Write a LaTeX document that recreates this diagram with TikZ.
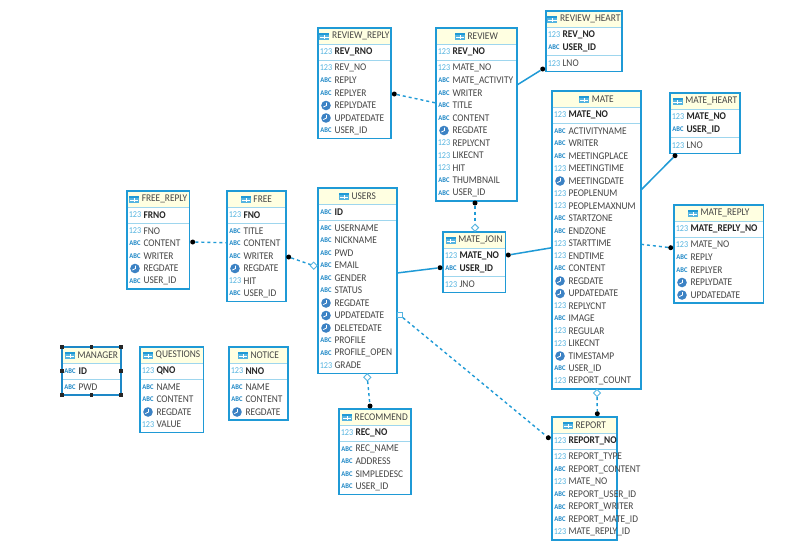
\documentclass[tikz,border=0pt]{standalone}
\usepackage{fontspec}
\setmainfont{Carlito}[FakeStretch=0.91]
\usetikzlibrary{shapes.geometric}
\definecolor{erdblue}{HTML}{1F9AD6}
\definecolor{erdsep}{HTML}{9ED6EE}
\definecolor{erdhead}{HTML}{FFFFE1}
\definecolor{erdnum}{HTML}{55B4E0}
\definecolor{erdabc}{HTML}{1E88C7}
\definecolor{erdclock}{HTML}{3C82C4}
\definecolor{erdtext}{HTML}{454545}
\newcommand{\lblfont}{\fontsize{10.3pt}{12pt}\selectfont}
\tikzset{
  tablebox/.style={draw=erdblue,line width=1.6pt,fill=white,inner sep=0pt,outer sep=0pt},
  headfill/.style={fill=erdhead,draw=none},
  rowsep/.style={draw=erdsep,line width=1pt},
  headsep/.style={draw=erdsep,line width=1pt},
  coltext/.style={anchor=west,inner sep=0pt,text=erdtext,font=\lblfont},
  pktext/.style={anchor=west,inner sep=0pt,text=black!85,font=\lblfont\bfseries},
  titletext/.style={inner sep=0pt,text=erdtext,font=\lblfont},
  numicon/.style={inner sep=0pt,text=erdnum,font=\fontsize{9pt}{10pt}\selectfont},
  abcicon/.style={inner sep=0pt,text=erdabc,font=\fontsize{7.2pt}{8pt}\selectfont\bfseries},
  conn/.style={draw=erdblue,line width=1.5pt},
  dashconn/.style={draw=erdblue,line width=1.4pt,dash pattern=on 3pt off 3pt},
  dotmark/.style={circle,fill=black,draw=none,minimum size=5pt,inner sep=0pt},
  diamark/.style={diamond,draw=erdnum,fill=white,line width=0.9pt,minimum size=7.5pt,inner sep=0pt},
  squaremark/.style={rectangle,draw=erdnum,fill=white,line width=0.9pt,minimum size=5pt,inner sep=0pt},
  handle/.style={rectangle,fill=black!85,draw=none,minimum size=3.6pt,inner sep=0pt},
}
\newcommand{\tyiconn}[2]{\node[numicon] (#2) at (#1) {123};}
\newcommand{\tyicona}[2]{\node[abcicon] (#2) at (#1) {ABC};}
\newcommand{\tyicond}[2]{%
  \node[circle,fill=erdclock,minimum size=9.6pt,inner sep=0pt] (#2) at (#1) {};
  \draw[white,line width=0.8pt] (#2.center) ++(0.4,-3) -- ++(0,3) -- ++(-3,1.6);}
\newcommand{\tblicon}[1]{%
  \begin{scope}[shift={(#1)}]
    \fill[erdnum] (0,-3.8) rectangle (10,3.6);
    \fill[erdblue] (0,-3.8) rectangle (10,-1.2);
    \draw[white,line width=0.5pt] (0.8,1.2) -- (9.2,1.2) (5,-1) -- (5,3);
  \end{scope}}
% name, title, x1, x2, y0, npk, nrow, pk list, column list
\newcommand{\erdtable}[9]{%
  \pgfmathsetmacro{\xa}{#3}\pgfmathsetmacro{\xb}{#4}\pgfmathsetmacro{\ya}{#5}
  \pgfmathsetmacro{\sepy}{\ya+19.5+12.5*#6}
  \pgfmathsetmacro{\yb}{\sepy+8+12.5*(#7-1)+8}
  \pgfmathsetmacro{\wid}{\xb-\xa}\pgfmathsetmacro{\hei}{\yb-\ya}
  \pgfmathsetmacro{\cx}{(\xa+\xb)/2}\pgfmathsetmacro{\cy}{(\ya+\yb)/2}
  \node[tablebox,minimum width=\wid pt,minimum height=\hei pt] (#1) at (\cx,\cy) {};
  \fill[erdhead] (\xa+0.7,\ya+0.7) rectangle (\xb-0.7,\ya+16);
  \draw[headsep] (\xa+0.7,\ya+16) -- (\xb-0.7,\ya+16);
  \draw[rowsep] (\xa+0.7,\sepy) -- (\xb-0.7,\sepy);
  \node[titletext] (#1-title) at (\cx,\ya+8.3) {\hspace*{12.5pt}#2};
  \tblicon{#1-title.west}
  \foreach \ty/\lb [count=\i] in {#8}{
    \pgfmathsetmacro{\ry}{\ya+24+12.5*(\i-1)}
    \csname tyicon\ty\endcsname{\xa+8,\ry}{#1-pi\i}
    \node[pktext] (#1-p\i) at (\xa+16.3,\ry) {\lb};
  }
  \foreach \ty/\lb [count=\i] in {#9}{
    \pgfmathsetmacro{\ry}{\sepy+8+12.5*(\i-1)}
    \csname tyicon\ty\endcsname{\xa+8,\ry}{#1-ci\i}
    \node[coltext] (#1-c\i) at (\xa+16.3,\ry) {\lb};
  }
}
\begin{document}
\begin{tikzpicture}[x=1pt,y=-1pt]
\useasboundingbox (0,0) rectangle (791,555);
\fill[white] (0,0) rectangle (791,555);

\erdtable{reviewreply}{REVIEW\_REPLY}{318}{391}{28}{1}{6}{n/REV\_RNO}{n/REV\_NO,a/REPLY,a/REPLYER,d/REPLYDATE,d/UPDATEDATE,a/USER\_ID}
\erdtable{review}{REVIEW}{436}{517}{28}{1}{11}{n/REV\_NO}{n/MATE\_NO,a/MATE\_ACTIVITY,a/WRITER,a/TITLE,a/CONTENT,d/REGDATE,n/REPLYCNT,n/LIKECNT,n/HIT,a/THUMBNAIL,a/USER\_ID}
\erdtable{reviewheart}{REVIEW\_HEART}{546}{622}{11}{2}{1}{n/REV\_NO,a/USER\_ID}{n/LNO}
\erdtable{mate}{MATE}{552}{641}{91}{1}{21}{n/MATE\_NO}{a/ACTIVITYNAME,a/WRITER,a/MEETINGPLACE,n/MEETINGTIME,d/MEETINGDATE,n/PEOPLENUM,n/PEOPLEMAXNUM,a/STARTZONE,a/ENDZONE,n/STARTTIME,n/ENDTIME,a/CONTENT,d/REGDATE,d/UPDATEDATE,n/REPLYCNT,a/IMAGE,n/REGULAR,n/LIKECNT,d/TIMESTAMP,a/USER\_ID,n/REPORT\_COUNT}
\erdtable{mateheart}{MATE\_HEART}{670}{740}{93}{2}{1}{n/MATE\_NO,a/USER\_ID}{n/LNO}
\erdtable{matereply}{MATE\_REPLY}{674}{763.5}{205}{1}{5}{n/MATE\_REPLY\_NO}{n/MATE\_NO,a/REPLY,a/REPLYER,d/REPLYDATE,d/UPDATEDATE}
\erdtable{freereply}{FREE\_REPLY}{127}{189.5}{191}{1}{5}{n/FRNO}{n/FNO,a/CONTENT,a/WRITER,d/REGDATE,a/USER\_ID}
\erdtable{free}{FREE}{227}{286}{191}{1}{6}{n/FNO}{a/TITLE,a/CONTENT,a/WRITER,d/REGDATE,n/HIT,a/USER\_ID}
\erdtable{users}{USERS}{318}{397}{188}{1}{12}{a/ID}{a/USERNAME,a/NICKNAME,a/PWD,a/EMAIL,a/GENDER,a/STATUS,d/REGDATE,d/UPDATEDATE,d/DELETEDATE,a/PROFILE,a/PROFILE\_OPEN,n/GRADE}
\erdtable{matejoin}{MATE\_JOIN}{443}{505.5}{232}{2}{1}{n/MATE\_NO,a/USER\_ID}{n/JNO}
\erdtable{recommend}{RECOMMEND}{339}{411}{409}{1}{4}{n/REC\_NO}{a/REC\_NAME,a/ADDRESS,a/SIMPLEDESC,a/USER\_ID}
\erdtable{report}{REPORT}{552}{617}{417}{1}{7}{n/REPORT\_NO}{n/REPORT\_TYPE,a/REPORT\_CONTENT,n/MATE\_NO,a/REPORT\_USER\_ID,a/REPORT\_WRITER,a/REPORT\_MATE\_ID,n/MATE\_REPLY\_ID}
\erdtable{questions}{QUESTIONS}{140}{203.5}{347}{1}{4}{n/QNO}{a/NAME,a/CONTENT,d/REGDATE,n/VALUE}
\erdtable{notice}{NOTICE}{229}{288}{347}{1}{3}{n/NNO}{a/NAME,a/CONTENT,d/REGDATE}
\erdtable{manager}{MANAGER}{62}{121}{347}{1}{1}{a/ID}{a/PWD}

% selection of MANAGER
\draw[draw=erdabc,line width=2.4pt] (manager.north west) rectangle (manager.south east);
\foreach \an [count=\i] in {north west,north,north east,west,east,south west,south,south east}{
  \node[handle] (sel\i) at (manager.\an) {};
}

% markers
\node[dotmark] (dReviewReply) at (394.3,94) {};
\node[dotmark] (dReviewHeart) at (542.7,69) {};
\node[dotmark] (dReview) at (475,203) {};
\node[diamark] (mJoinTop) at (475,227.7) {};
\node[dotmark] (dJoinR) at (508.3,255) {};
\node[dotmark] (dJoinL) at (440,267.7) {};
\node[dotmark] (dFreeReply) at (192.7,242) {};
\node[dotmark] (dFree) at (288.7,257) {};
\node[diamark] (mUsersL) at (313.7,265.7) {};
\node[diamark] (mUsersB) at (367.3,377.3) {};
\node[dotmark] (dRecommend) at (370,406) {};
\node[squaremark] (mUsersR) at (400,315.3) {};
\node[dotmark] (dReportL) at (548.3,437.7) {};
\node[diamark] (mMateB) at (597,393) {};
\node[dotmark] (dReportT) at (597.3,413.7) {};
\node[dotmark] (dMateHeart) at (675,155.7) {};
\node[dotmark] (dMateReply) at (670.7,247.7) {};

% connectors
\draw[dashconn] (dReviewReply) -- ([yshift=11.5pt]review.west);
\draw[conn] ([yshift=29.5pt]review.east) -- (dReviewHeart);
\draw[dashconn] (dReview) -- (mJoinTop);
\draw[conn] ([yshift=-7.7pt]mate.west) -- (dJoinR);
\draw[conn] ([yshift=7.75pt]users.east) -- (dJoinL);
\draw[dashconn] (dFreeReply) -- ([yshift=3.5pt]free.west);
\draw[dashconn] (dFree) -- (mUsersL);
\draw[dashconn] (mUsersB) -- (dRecommend);
\draw[dashconn] (mUsersR) -- (dReportL);
\draw[dashconn] (mMateB) -- (dReportT);
\draw[conn] ([yshift=50pt]mate.east) -- (dMateHeart);
\draw[dashconn] ([yshift=-4.3pt]mate.east) -- (dMateReply);
\end{tikzpicture}
\end{document}
